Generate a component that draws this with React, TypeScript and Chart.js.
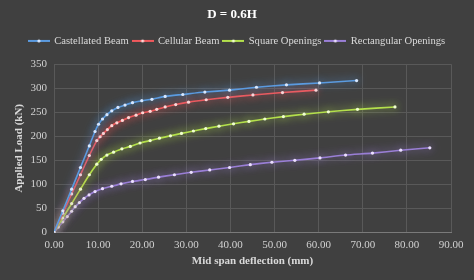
import React, { useEffect, useRef } from "react";
import { Chart, registerables } from "chart.js";

Chart.register(...registerables);

const chartTitle = "D = 0.6H";
const xAxisTitle = "Mid span deflection (mm)";
const yAxisTitle = "Applied Load (kN)";
const seriesNames = ["Castellated Beam", "Cellular Beam", "Square Openings", "Rectangular Openings"];
const seriesColors = ["#5b9be0", "#f0595c", "#b4e04c", "#9a7fd6"];
const pointColors = ["#d8e8ff", "#ffd8d8", "#f0ffd0", "#ece0ff"];

const castellatedX = [0, 2, 4, 6, 8, 9.3, 10.1, 11, 12, 13.1, 14.5, 16.1, 17.8, 19.9, 22.2, 25.2, 29.2, 34.2, 39.8, 45.9, 52.7, 60.2, 68.6];
const castellatedY = [0, 45, 90, 135, 180, 210, 225, 236, 245, 253, 260, 265, 270, 274, 277, 283, 287, 292, 296, 302, 307, 311, 316];

const cellularX = [0, 2, 4, 6, 8, 9.7, 10.45, 11.2, 12.1, 13.1, 14.25, 15.5, 16.9, 18.6, 20.1, 21.8, 23.3, 25.2, 27.6, 30.5, 34.5, 39.4, 45.1, 51.8, 59.4];
const cellularY = [0, 40, 80, 120, 160, 191, 199, 206, 214, 222, 228, 233, 239, 244, 249, 252, 256, 261, 266, 271, 276, 281, 286, 291, 296];

const squareX = [0, 2, 4, 6, 8, 9.7, 10.7, 12, 13.5, 15.4, 17.3, 19.5, 21.8, 23.9, 26.4, 28.9, 31.6, 34.4, 37.4, 40.7, 44.2, 47.8, 52, 56.7, 62.2, 68.8, 77.3];
const squareY = [0, 30, 60, 90, 120, 142, 152, 161, 167, 174, 179, 186, 191, 196, 201, 206, 211, 216, 221, 226, 231, 236, 241, 246, 251, 256, 261];

const rectX = [0, 1, 2, 3, 4, 4.8, 5.75, 6.8, 7.95, 9.3, 11, 13.1, 15.2, 17.8, 20.7, 23.7, 27.3, 31.1, 35.3, 39.8, 44.5, 49.4, 54.6, 60.3, 66.1, 72.2, 78.6, 85.2];
const rectY = [0, 11, 22, 33, 44, 53.5, 62, 71, 78, 85, 91, 96, 101, 106, 110, 115, 120, 125, 130, 135, 141, 146, 150, 155, 161, 165, 171, 176];

const xTickValues = [0, 10, 20, 30, 40, 50, 60, 70, 80, 90];
const yTickValues = [0, 50, 100, 150, 200, 250, 300, 350];

const seriesX = [castellatedX, cellularX, squareX, rectX];
const seriesY = [castellatedY, cellularY, squareY, rectY];

const FONT = "'Liberation Serif', 'Times New Roman', serif";

function legendSwatch(color: string, fill: string): HTMLCanvasElement {
  const c = document.createElement("canvas");
  c.width = 22;
  c.height = 8;
  const g = c.getContext("2d")!;
  g.strokeStyle = color;
  g.lineWidth = 2;
  g.beginPath();
  g.moveTo(0, 4);
  g.lineTo(22, 4);
  g.stroke();
  g.fillStyle = fill;
  g.beginPath();
  g.arc(11, 4, 1.6, 0, Math.PI * 2);
  g.fill();
  return c;
}

const glowPlugin = {
  id: "glow",
  beforeDatasetDraw(chart: any, args: any) {
    const ctx = chart.ctx;
    ctx.save();
    const ds = chart.data.datasets[args.index];
    ctx.shadowColor = ds.borderColor;
    ctx.shadowBlur = 8;
  },
  afterDatasetDraw(chart: any) {
    chart.ctx.restore();
  },
};

const legendMargin = {
  id: "legendMargin",
  beforeLayout(chart: any) {
    const lg = chart.legend;
    if (lg && !lg.__wrapped) {
      const orig = lg.fit.bind(lg);
      lg.fit = function () {
        orig();
        this.height += 8;
      };
      lg.__wrapped = true;
    }
  },
  afterLayout(chart: any) {
    const lg = chart.legend;
    if (lg) {
      lg.left += 5;
      lg.right += 5;
    }
  },
};

export default function App() {
  const ref = useRef<HTMLCanvasElement>(null);
  useEffect(() => {
    document.body.style.margin = "0";
    const swatches = seriesColors.map((c, i) => legendSwatch(c, pointColors[i]));
    const datasets = seriesNames.map((name, i) => ({
      label: name,
      data: seriesX[i].map((x, j) => ({ x, y: seriesY[i][j] })),
      borderColor: seriesColors[i],
      backgroundColor: seriesColors[i],
      borderWidth: 1.6,
      pointRadius: 1.6,
      pointBorderWidth: 0,
      pointBackgroundColor: pointColors[i],
      tension: 0.2,
    }));
    const chart = new Chart(ref.current!, {
      type: "line",
      data: { datasets },
      plugins: [glowPlugin, legendMargin],
      options: {
        animation: false,
        responsive: false,
        layout: { padding: { left: 13, right: 23, top: 0, bottom: 12 } },
        plugins: {
          title: {
            display: true,
            text: chartTitle,
            color: "#ffffff",
            font: { family: FONT, size: 13, weight: "bold" },
            padding: { top: 7, bottom: 9 },
          },
          legend: {
            display: true,
            labels: {
              color: "#d9d9d9",
              font: { family: FONT, size: 10.6 },
              usePointStyle: true,
              pointStyleWidth: 20,
              padding: 4,
              generateLabels: (ch: any) => {
                const items = Chart.defaults.plugins.legend.labels.generateLabels(ch);
                items.forEach((it: any, i: number) => {
                  it.pointStyle = swatches[i];
                });
                return items;
              },
            },
          },
          tooltip: { enabled: false },
        },
        scales: {
          x: {
            type: "linear",
            min: 0,
            max: 90,
            afterBuildTicks: (s: any) => {
              s.ticks = xTickValues.map((v) => ({ value: v }));
            },
            afterFit: (s: any) => {
              s.height = 35.6;
            },
            ticks: {
              color: "#d0d0d0",
              font: { family: FONT, size: 11 },
              padding: 6,
              maxRotation: 0,
              callback: (v: any) => Number(v).toFixed(2),
            },
            grid: { color: "#595959", drawTicks: false, lineWidth: 1 },
            border: { color: "#7a7a7a" },
            title: {
              display: true,
              text: xAxisTitle,
              color: "#d9d9d9",
              font: { family: FONT, size: 11, weight: "bold" },
              padding: 0,
            },
          },
          y: {
            type: "linear",
            min: 0,
            max: 350,
            afterBuildTicks: (s: any) => {
              s.ticks = yTickValues.map((v) => ({ value: v }));
            },
            afterFit: (s: any) => {
              s.width = 41;
            },
            ticks: {
              color: "#d0d0d0",
              font: { family: FONT, size: 11 },
              padding: 7,
            },
            grid: { color: "#595959", drawTicks: false, lineWidth: 1 },
            border: { color: "#595959" },
            title: {
              display: true,
              text: yAxisTitle,
              color: "#d9d9d9",
              font: { family: FONT, size: 11, weight: "bold" },
              padding: 0,
            },
          },
        },
      } as any,
    });
    return () => chart.destroy();
  }, []);
  return (
    <canvas
      ref={ref}
      width={474}
      height={280}
      style={{ display: "block", width: 474, height: 280, background: "#404040" }}
    />
  );
}
